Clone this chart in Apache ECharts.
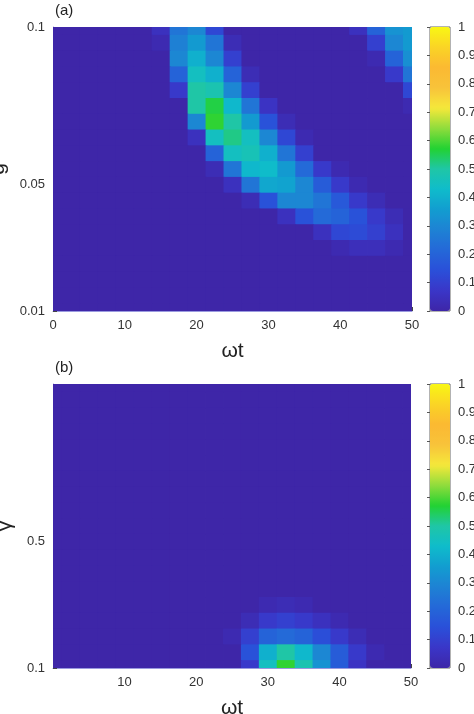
<!DOCTYPE html>
<html>
<head>
<meta charset="utf-8">
<script src="https://cdn.jsdelivr.net/npm/echarts@6/dist/echarts.min.js"></script>
<style>html,body{margin:0;padding:0;background:#fff}#main{width:474px;height:714px}</style>
</head>
<body>
<div id="main"></div>
<script>
// ωt grid columns (0 .. 50, step 2.5)
var omegaT = [0,2.5,5,7.5,10,12.5,15,17.5,20,22.5,25,27.5,30,32.5,35,37.5,40,42.5,45,47.5,50];
// panel (a): g rows from 0.1 down to 0.01
var gRows = [0.1,0.095,0.09,0.085,0.08,0.075,0.07,0.065,0.06,0.055,0.05,0.045,0.04,0.035,0.03,0.025,0.02,0.015,0.01];
var valuesA = [
  [0,0,0,0,0,0,.05,.25,.30,.12,0,0,0,0,0,0,0,.05,.20,.33,.35],
  [0,0,0,0,0,0,.02,.28,.35,.25,.03,0,0,0,0,0,0,0,.10,.30,.35],
  [0,0,0,0,0,0,0,.30,.40,.30,.10,0,0,0,0,0,0,0,.02,.20,.32],
  [0,0,0,0,0,0,0,.20,.45,.40,.20,.03,0,0,0,0,0,0,0,.08,.25],
  [0,0,0,0,0,0,0,.08,.50,.48,.30,.10,0,0,0,0,0,0,0,0,.12],
  [0,0,0,0,0,0,0,0,.50,.56,.42,.25,.06,0,0,0,0,0,0,0,.02],
  [0,0,0,0,0,0,0,0,.30,.58,.50,.35,.15,.03,0,0,0,0,0,0,0],
  [0,0,0,0,0,0,0,0,.05,.45,.52,.45,.30,.12,.02,0,0,0,0,0,0],
  [0,0,0,0,0,0,0,0,0,.20,.45,.47,.40,.25,.10,0,0,0,0,0,0],
  [0,0,0,0,0,0,0,0,0,.03,.25,.42,.43,.35,.22,.08,.02,0,0,0,0],
  [0,0,0,0,0,0,0,0,0,0,.05,.25,.38,.37,.30,.18,.08,.02,0,0,0],
  [0,0,0,0,0,0,0,0,0,0,0,.03,.15,.30,.30,.25,.17,.08,.03,0,0],
  [0,0,0,0,0,0,0,0,0,0,0,0,0,.05,.15,.22,.20,.15,.08,.03,0],
  [0,0,0,0,0,0,0,0,0,0,0,0,0,0,0,.05,.12,.13,.10,.05,0],
  [0,0,0,0,0,0,0,0,0,0,0,0,0,0,0,0,.02,.04,.04,.02,0],
  [0,0,0,0,0,0,0,0,0,0,0,0,0,0,0,0,0,0,0,0,0],
  [0,0,0,0,0,0,0,0,0,0,0,0,0,0,0,0,0,0,0,0,0],
  [0,0,0,0,0,0,0,0,0,0,0,0,0,0,0,0,0,0,0,0,0],
  [0,0,0,0,0,0,0,0,0,0,0,0,0,0,0,0,0,0,0,0,0]
];
// panel (b): γ rows from 1.0 down to 0.1
var gammaRows = [1.0,0.95,0.9,0.85,0.8,0.75,0.7,0.65,0.6,0.55,0.5,0.45,0.4,0.35,0.3,0.25,0.2,0.15,0.1];
var valuesB = [
  [0,0,0,0,0,0,0,0,0,0,0,0,0,0,0,0,0,0,0,0,0],
  [0,0,0,0,0,0,0,0,0,0,0,0,0,0,0,0,0,0,0,0,0],
  [0,0,0,0,0,0,0,0,0,0,0,0,0,0,0,0,0,0,0,0,0],
  [0,0,0,0,0,0,0,0,0,0,0,0,0,0,0,0,0,0,0,0,0],
  [0,0,0,0,0,0,0,0,0,0,0,0,0,0,0,0,0,0,0,0,0],
  [0,0,0,0,0,0,0,0,0,0,0,0,0,0,0,0,0,0,0,0,0],
  [0,0,0,0,0,0,0,0,0,0,0,0,0,0,0,0,0,0,0,0,0],
  [0,0,0,0,0,0,0,0,0,0,0,0,0,0,0,0,0,0,0,0,0],
  [0,0,0,0,0,0,0,0,0,0,0,0,0,0,0,0,0,0,0,0,0],
  [0,0,0,0,0,0,0,0,0,0,0,0,0,0,0,0,0,0,0,0,0],
  [0,0,0,0,0,0,0,0,0,0,0,0,0,0,0,0,0,0,0,0,0],
  [0,0,0,0,0,0,0,0,0,0,0,0,0,0,0,0,0,0,0,0,0],
  [0,0,0,0,0,0,0,0,0,0,0,0,0,0,0,0,0,0,0,0,0],
  [0,0,0,0,0,0,0,0,0,0,0,0,0,0,0,0,0,0,0,0,0],
  [0,0,0,0,0,0,0,0,0,0,0,0,.02,.03,.02,0,0,0,0,0,0],
  [0,0,0,0,0,0,0,0,0,0,0,.03,.08,.10,.08,.05,.02,0,0,0,0],
  [0,0,0,0,0,0,0,0,0,0,.02,.10,.20,.22,.20,.14,.08,.03,0,0,0],
  [0,0,0,0,0,0,0,0,0,0,0,.15,.40,.50,.42,.30,.18,.08,.02,0,0],
  [0,0,0,0,0,0,0,0,0,0,0,.08,.45,.58,.48,.33,.18,.06,0,0,0]
];
var colormap = ['#3e26a8','#3a36c8','#2a4fd9','#2468d8','#1e82d4','#129dd0','#0fbccb','#1fc6a6','#22d232','#8fdc3c','#f5e83a','#f8c33a','#fbb932','#fad425','#f9f714'];

function cells(xs, ys, vals) {
  var out = [];
  for (var r = 0; r < ys.length; r++)
    for (var c = 0; c < xs.length; c++) out.push([xs[c], ys[r], vals[r][c]]);
  return out;
}
function cellRenderer(dx, dy) {
  return function (params, api) {
    var p = api.coord([api.value(0) - dx / 2, api.value(1) + dy / 2]);
    var s = api.size([dx, dy]);
    return {type: 'rect', shape: {x: p[0], y: p[1], width: s[0] + 0.8, height: s[1] + 0.8},
      style: {fill: api.visual('color')}};
  };
}

var font = 'Liberation Sans';
var lab = {color: '#333', fontSize: 13, fontFamily: font};
var nameStyle = {color: '#222', fontSize: 21, fontFamily: font};
var line = {lineStyle: {color: '#9a9adf', width: 1}};
var tick = {inside: true, length: 4, lineStyle: {color: '#444'}};

var chart = echarts.init(document.getElementById('main'));
chart.setOption({
  animation: false,
  grid: [
    {left: 53, top: 27, width: 359, height: 284, outerBoundsMode: 'none', containLabel: false},
    {left: 53, top: 384, width: 358, height: 284, outerBoundsMode: 'none', containLabel: false},
    {left: 430, top: 27, width: 20, height: 284, show: true, borderColor: '#666', outerBoundsMode: 'none', containLabel: false},
    {left: 430, top: 384, width: 20, height: 284, show: true, borderColor: '#666', outerBoundsMode: 'none', containLabel: false}
  ],
  xAxis: [
    {gridIndex: 0, type: 'value', min: 0, max: 50, interval: 10, name: 'ωt', nameLocation: 'middle', nameGap: 30,
      nameTextStyle: nameStyle, axisLabel: lab, axisLine: line, axisTick: tick, splitLine: {show: false}},
    {gridIndex: 1, type: 'value', min: 0, max: 50, interval: 10, name: 'ωt', nameLocation: 'middle', nameGap: 30,
      nameTextStyle: nameStyle, axisLine: line, axisTick: tick, splitLine: {show: false},
      axisLabel: Object.assign({showMinLabel: false}, lab)},
    {gridIndex: 2, type: 'value', show: false, min: 0, max: 1},
    {gridIndex: 3, type: 'value', show: false, min: 0, max: 1}
  ],
  yAxis: [
    {gridIndex: 0, type: 'value', min: 0.01, max: 0.1, name: 'g', nameLocation: 'middle', nameGap: 36,
      nameTextStyle: nameStyle, axisLine: line, splitLine: {show: false},
      axisLabel: Object.assign({customValues: [0.01, 0.05, 0.1]}, lab),
      axisTick: Object.assign({customValues: [0.01, 0.05, 0.1]}, tick)},
    {gridIndex: 1, type: 'value', min: 0.1, max: 1.0, name: 'γ', nameLocation: 'middle', nameGap: 32,
      nameTextStyle: nameStyle, axisLine: line, splitLine: {show: false},
      axisLabel: Object.assign({customValues: [0.1, 0.5]}, lab),
      axisTick: Object.assign({customValues: [0.1, 0.5]}, tick)},
    {gridIndex: 2, type: 'value', position: 'right', min: 0, max: 1, interval: 0.1, splitLine: {show: false},
      axisLine: {show: false}, axisTick: {inside: true, length: 3, lineStyle: {color: '#555'}}, axisLabel: lab, z: 10},
    {gridIndex: 3, type: 'value', position: 'right', min: 0, max: 1, interval: 0.1, splitLine: {show: false},
      axisLine: {show: false}, axisTick: {inside: true, length: 3, lineStyle: {color: '#555'}}, axisLabel: lab, z: 10}
  ],
  visualMap: [
    {type: 'continuous', seriesIndex: 0, dimension: 2, min: 0, max: 1, calculable: false, left: 430, top: 27,
      itemWidth: 20, itemHeight: 284, inRange: {color: colormap}, text: null, padding: 0},
    {type: 'continuous', seriesIndex: 1, dimension: 2, min: 0, max: 1, calculable: false, left: 430, top: 384,
      itemWidth: 20, itemHeight: 284, inRange: {color: colormap}, text: null, padding: 0}
  ],
  graphic: [
    {type: 'text', left: 55, top: 3, style: {text: '(a)', fontSize: 15, fontFamily: font, fill: '#222'}},
    {type: 'text', left: 55, top: 360, style: {text: '(b)', fontSize: 15, fontFamily: font, fill: '#222'}}
  ],
  series: [
    {type: 'custom', xAxisIndex: 0, yAxisIndex: 0, clip: true, renderItem: cellRenderer(2.5, 0.005),
      data: cells(omegaT, gRows, valuesA), encode: {x: 0, y: 1}},
    {type: 'custom', xAxisIndex: 1, yAxisIndex: 1, clip: true, renderItem: cellRenderer(2.5, 0.05),
      data: cells(omegaT, gammaRows, valuesB), encode: {x: 0, y: 1}}
  ]
});
</script>
</body>
</html>
